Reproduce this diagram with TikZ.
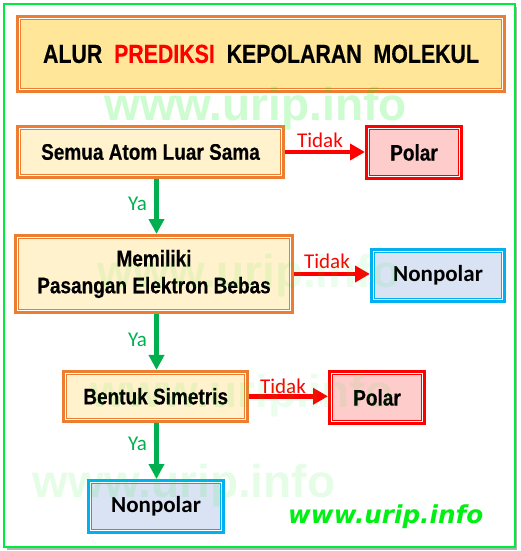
\documentclass[tikz,border=0pt]{standalone}
\usepackage{fontspec}
\setmainfont{Liberation Sans}
\newfontfamily\narrowbf[FakeStretch=0.82,FakeBold=0.3]{Liberation Sans Bold}
\newfontfamily\boxbf[FakeStretch=0.845,FakeBold=0.4]{Liberation Sans Bold}
\newfontfamily\calib{Carlito}
\newfontfamily\wmfont{Liberation Sans Bold}
\newfontfamily\scriptf{DejaVu Sans Bold Oblique}
\usetikzlibrary{arrows.meta}
\definecolor{orangeB}{HTML}{ED7D31}
\definecolor{titlefill}{HTML}{FFE699}
\definecolor{boxfill}{HTML}{FFF2CC}
\definecolor{polfill}{HTML}{FFCCCC}
\definecolor{blueB}{HTML}{00B0F0}
\definecolor{nonfill}{HTML}{DAE3F3}
\definecolor{yagreen}{HTML}{00B050}
\definecolor{frameg}{RGB}{0,235,60}
\definecolor{wmgreen}{RGB}{0,240,20}
\definecolor{redR}{HTML}{FF0000}
\begin{document}
\begin{tikzpicture}[x=1pt,y=-1pt,
  dbl/.style 2 args={draw=#1, line width=3pt, fill=white, inner sep=0pt,
    path picture={\draw[draw=#1, fill=#2, line width=0.9pt]
      ([shift={(3pt,-3pt)}]path picture bounding box.north west) rectangle
      ([shift={(-3pt,3pt)}]path picture bounding box.south east);}},
  stepbox/.style={dbl={orangeB}{boxfill}, align=center,
    font=\boxbf\fontsize{22.5}{27}\selectfont},
  polarbox/.style={dbl={redR}{polfill},
    font=\boxbf\fontsize{22.5}{27}\selectfont},
  nonbox/.style={dbl={blueB}{nonfill},
    font=\calib\bfseries\fontsize{23}{27}\selectfont},
  noarrow/.style={draw=redR, line width=4.5pt,
    -{Triangle[length=15pt,width=16pt]}},
  yaarrow/.style={draw=yagreen, line width=4.7pt,
    -{Triangle[length=15pt,width=15pt]}},
  tidaklbl/.style={anchor=base, text=redR, inner sep=0pt,
    font=\calib\fontsize{21}{25}\selectfont},
  yalbl/.style={anchor=base, text=yagreen, inner sep=0pt,
    font=\calib\fontsize{21}{25}\selectfont},
  wmark/.style={anchor=base, text=wmgreen, inner sep=0pt,
    font=\wmfont\fontsize{46}{50}\selectfont}
]
\useasboundingbox[fill=white] (0,0) rectangle (520,551);
% frame with shadow
\draw[gray!60, line width=1.5pt] (7,549.2) -- (516.7,549.2) -- (516.7,7);
\draw[frameg, line width=2pt] (4.3,4.3) rectangle (514.5,547);

% title
\node[dbl={orangeB}{titlefill}, minimum width=487pt, minimum height=74.7pt,
  font=\narrowbf\fontsize{26}{30}\selectfont] (title) at (261,53.9)
  {ALUR\ \ \textcolor{redR}{PREDIKSI}\ \ KEPOLARAN\ \ MOLEKUL};

% steps
\node[stepbox, minimum width=266pt, minimum height=51pt] (b1) at (150.5,152)
  {Semua Atom Luar Sama};
\node[polarbox, minimum width=95pt, minimum height=52pt] (p1) at (414,152.5)
  {Polar};
\node[stepbox, minimum width=277pt, minimum height=77pt] (b2) at (154,274)
  {Memiliki\\Pasangan Elektron Bebas};
\node[nonbox, minimum width=133pt, minimum height=52pt] (n1) at (438,275.2)
  {Nonpolar};
\node[stepbox, minimum width=183.7pt, minimum height=49.7pt] (b3) at (155.7,396.3)
  {Bentuk Simetris};
\node[polarbox, minimum width=95pt, minimum height=52pt] (p2) at (377,397.5)
  {Polar};
\node[nonbox, minimum width=135pt, minimum height=52pt] (n2) at (156,506.5)
  {Nonpolar};

% connectors
\coordinate (ax) at (156.5,0);
\draw[noarrow] (b1.east) -- (b1.east -| p1.west);
\draw[noarrow] (b2.east) -- (b2.east -| n1.west);
\draw[noarrow] (b3.east) -- (b3.east -| p2.west);
\draw[yaarrow] (b1.south -| ax) -- (b2.north -| ax);
\draw[yaarrow] (b2.south -| ax) -- (b3.north -| ax);
\draw[yaarrow] (b3.south -| ax) -- (n2.north -| ax);

% labels
\node[tidaklbl] (t1) at (320,147.3) {Tidak};
\node[tidaklbl] (t2) at (327,268) {Tidak};
\node[tidaklbl] (t3) at (283,393) {Tidak};
\node[yalbl] (y1) at (137.5,210) {Ya};
\node[yalbl] (y2) at (137.5,346) {Ya};
\node[yalbl] (y3) at (137.5,450) {Ya};

% watermarks
\node[wmark, text opacity=0.2] (w1) at (255.5,120) {www.urip.info};
\node[wmark, text opacity=0.08] (w2) at (249,287) {www.urip.info};
\node[wmark, text opacity=0.08] (w3) at (242,407) {www.urip.info};
\node[wmark, text opacity=0.1] (w4) at (184,497) {www.urip.info};
\node[anchor=base west, inner sep=0pt, text=wmgreen] (w5) at (288,523)
  {\resizebox{195pt}{!}{\scriptf www.urip.info}};
\end{tikzpicture}
\end{document}
